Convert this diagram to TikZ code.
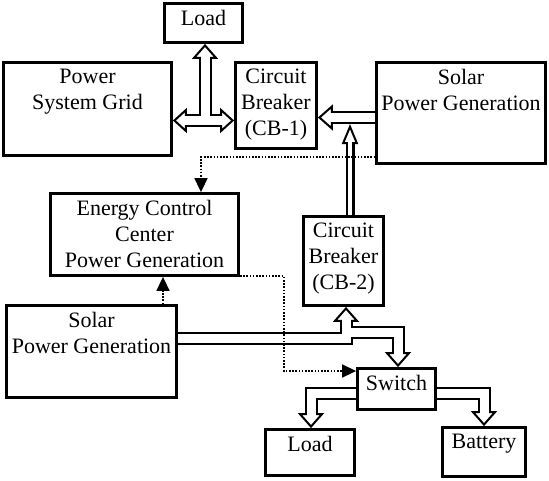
\documentclass[tikz,border=0pt]{standalone}
\usepackage{fontspec}
\setmainfont{Liberation Serif}
\usetikzlibrary{arrows.meta}

\tikzset{
	blk/.style={draw, line width=2.8pt, inner sep=0pt},
	txt/.style={anchor=north, align=center, inner sep=0pt, yshift=-8pt, font=\fontsize{22}{26}\selectfont},
	pipe/.style={line width=13pt},
	core/.style={line width=9pt, white, shorten >=11pt},
	thin pipe/.style={line width=9pt},
	thin core/.style={line width=4.5pt, white, shorten >=17pt},
	head/.style={>={Triangle[length=15pt, width=26pt, line width=2pt, fill=white]}, ->},
	both heads/.style={>={Triangle[length=14pt, width=25pt, line width=2pt, fill=white]}, <->},
	thin head/.style={>={Triangle[length=20pt, width=16pt, line width=2pt, fill=white]}, ->},
	ctrl/.style={line width=1.6pt, dash pattern=on 1.6pt off 1.6pt, >={Triangle[length=14pt, width=13pt]}, ->}
}

\begin{document}
\begin{tikzpicture}[x=1pt, y=-1pt]
\useasboundingbox (0,0) rectangle (549,480);

% boxes
\node[blk, minimum width=78pt, minimum height=39pt, label={[txt]north:Load}] (load1) at (203.5,23) {};
\node[blk, minimum width=168pt, minimum height=93pt, label={[txt]north:Power\\System Grid}] (grid) at (87.5,109) {};
\node[blk, minimum width=81pt, minimum height=86pt, label={[txt]north:Circuit\\Breaker\\(CB-1)}] (cb1) at (276,105.5) {};
\node[blk, minimum width=169pt, minimum height=101pt, label={[txt]north:Solar\\Power Generation}] (solar1) at (461,113) {};
\node[blk, minimum width=188pt, minimum height=82pt, label={[txt]north:Energy Control\\Center\\Power Generation}] (ecc) at (144.5,234.5) {};
\node[blk, minimum width=80pt, minimum height=89pt, label={[txt]north:Circuit\\Breaker\\(CB-2)}] (cb2) at (343.5,261) {};
\node[blk, minimum width=170pt, minimum height=92pt, label={[txt]north:Solar\\Power Generation}] (solar2) at (91.5,351.5) {};
\node[blk, minimum width=78pt, minimum height=41pt, label={[txt]north:Switch}] (switch) at (396.5,389) {};
\node[blk, minimum width=89pt, minimum height=46pt, label={[txt]north:Load}] (load2) at (310,452.5) {};
\node[blk, minimum width=83pt, minimum height=49pt, label={[txt]north:Battery}] (batt) at (484,452) {};

% bends of the power lines
\coordinate (jA) at (205,120.5);
\coordinate (jB) at (350,117.5);
\coordinate (jC) at (350,124);
\coordinate (jD) at (346,338);
\coordinate (jE) at (398,332.5);
\coordinate (jF) at (311,393);
\coordinate (jG) at (484,393);

% power lines, outline first
\draw[pipe, both heads] (jA -| grid.east) -- (jA -| cb1.west);
\draw[pipe, head] (jA) -- (jA |- load1.south);
\draw[pipe, head] (jB -| solar1.west) -- (jB -| cb1.east);
\draw[thin pipe, thin head] (jC |- cb2.north) -- (jC);
\draw[pipe, head] (jD -| solar2.east) -- (jD) -- (jD |- cb2.south);
\draw[pipe, head] (jD |- jE) -- (jE) -- (jE |- switch.north);
\draw[pipe, head] (jF -| switch.west) -- (jF) -- (jF |- load2.north);
\draw[pipe, head] (jG -| switch.east) -- (jG) -- (jG |- batt.north);

% then the hollow inside
\draw[core, shorten <=11pt] (jA -| grid.east) -- (jA -| cb1.west);
\draw[core, shorten >=12pt] (jA) -- (jA |- load1.south);
\draw[core, shorten >=12pt] (jB -| solar1.west) -- (jB -| cb1.east);
\draw[thin core] (jC |- cb2.north) -- (jC);
\draw[core, shorten >=12pt] (jD -| solar2.east) -- (jD) -- (jD |- cb2.south);
\draw[core, shorten >=12pt] (jD |- jE) -- (jE) -- (jE |- switch.north);
\draw[core, shorten >=12pt] (jF -| switch.west) -- (jF) -- (jF |- load2.north);
\draw[core, shorten >=12pt] (jG -| switch.east) -- (jG) -- (jG |- batt.north);

% control signals
\coordinate (dA) at (201,157);
\coordinate (dB) at (163,300);
\coordinate (dC) at (284,276);
\draw[ctrl] (solar1.west |- dA) -| (dA |- ecc.north);
\draw[ctrl] (dB |- solar2.north) -- (dB |- ecc.south);
\draw[ctrl] (ecc.east |- dC) -- (dC) |- ([yshift=18pt]switch.west);

\end{tikzpicture}
\end{document}
